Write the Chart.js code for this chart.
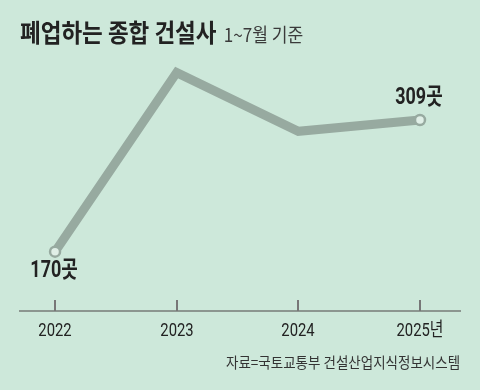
<!DOCTYPE html>
<html><head><meta charset="utf-8">
<script src="https://cdn.jsdelivr.net/npm/chart.js@4"></script>
<style>
html,body{margin:0;padding:0;background:#cde8da;}
#wrap{position:relative;width:480px;height:390px;background:#cde8da;overflow:hidden;}
canvas{position:absolute;left:0;top:0;}
#title{position:absolute;left:20px;top:19px;line-height:25px;white-space:nowrap;font-family:'Noto Sans CJK KR',sans-serif;color:#222;transform:scaleX(0.9);transform-origin:left top;}
#title b{font-size:25px;font-weight:700;}
#title span{font-size:19px;font-weight:400;color:#3a3a3a;margin-left:8px;}
#src{position:absolute;right:20px;top:354px;line-height:15px;font-family:'Noto Sans CJK KR',sans-serif;font-size:15px;color:#333;white-space:nowrap;transform:scaleX(0.9);transform-origin:right top;}
</style></head>
<body><div id="wrap">
<canvas id="c" width="480" height="390"></canvas>
<div id="title"><b>폐업하는 종합 건설사</b><span>1~7월 기준</span></div>
<div id="src">자료=국토교통부 건설산업지식정보시스템</div>
</div>
<script>
const years = [2022, 2023, 2024, 2025];
const closures = [170, 359, 297, 309];
const tickLabels = ['2022', '2023', '2024', '2025년'];
const pointLabels = ['170곳', '', '', '309곳'];

const FONT = "Roboto,'Noto Sans CJK KR',sans-serif";

function narrowText(ctx, text, x, y, sx) {
  ctx.save();
  ctx.translate(x, y);
  ctx.scale(sx, 1);
  ctx.fillText(text, 0, 0);
  ctx.restore();
}

const axisPlugin = {
  id: 'axisDeco',
  afterDraw(chart) {
    const ctx = chart.ctx, x = chart.scales.x, area = chart.chartArea;
    ctx.save();
    ctx.strokeStyle = '#777';
    ctx.lineWidth = 2;
    ctx.font = "19px " + FONT;
    ctx.fillStyle = '#222';
    ctx.textAlign = 'center';
    ctx.textBaseline = 'middle';
    years.forEach((v, i) => {
      const px = Math.round(x.getPixelForValue(v));
      ctx.beginPath(); ctx.moveTo(px, area.bottom - 11); ctx.lineTo(px, area.bottom); ctx.stroke();
      narrowText(ctx, tickLabels[i], px, area.bottom + 20, 0.78);
    });
    ctx.restore();
  }
};
const labelPlugin = {
  id: 'endLabels',
  afterDatasetsDraw(chart) {
    const ctx = chart.ctx, meta = chart.getDatasetMeta(0);
    ctx.save();
    ctx.font = "bold 23px " + FONT;
    ctx.fillStyle = '#222';
    ctx.textAlign = 'center';
    ctx.textBaseline = 'middle';
    pointLabels.forEach((t, i) => {
      if (!t) return;
      const p = meta.data[i];
      const dy = i === 0 ? 20 : -22;
      narrowText(ctx, t, p.x - 1, p.y + dy, 0.78);
    });
    ctx.restore();
  }
};

new Chart(document.getElementById('c'), {
  type: 'line',
  data: {
    datasets: [{
      data: years.map((y, i) => ({x: y, y: closures[i]})),
      borderColor: '#97aaa0',
      borderWidth: 9,
      borderJoinStyle: 'miter',
      borderCapStyle: 'butt',
      tension: 0,
      pointRadius: [5, 0, 0, 5],
      pointBorderWidth: 2.5,
      pointBorderColor: '#97aaa0',
      pointBackgroundColor: '#e0efe7',
      clip: false
    }]
  },
  options: {
    responsive: false,
    animation: false,
    events: [],
    layout: {padding: {top: 40, left: 20, right: 20, bottom: 0}},
    plugins: {legend: {display: false}, tooltip: {enabled: false}, title: {display: false}},
    scales: {
      x: {
        type: 'linear',
        min: 2021.712, max: 2025.329,
        afterBuildTicks(s) { s.ticks = years.map(v => ({value: v})); },
        afterFit(s) { s.height = 79; },
        grid: {display: true, drawOnChartArea: false, drawTicks: false, color: 'rgba(0,0,0,0)'},
        border: {display: true, color: '#8c9690', width: 2},
        ticks: {display: false}
      },
      y: {display: false, min: 107.4, max: 393.4}
    }
  },
  plugins: [axisPlugin, labelPlugin]
});
</script>
</body></html>
